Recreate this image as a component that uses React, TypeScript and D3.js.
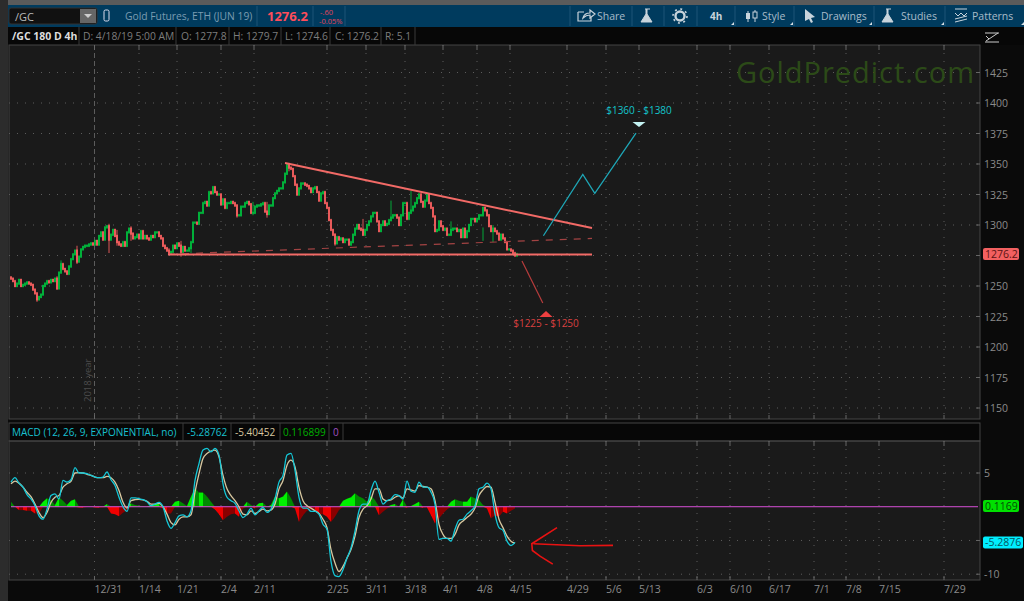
import React from "react";
import * as d3 from "d3";

const priceTicks = [1425, 1400, 1375, 1350, 1325, 1300, 1275, 1250, 1225, 1200, 1175, 1150];
const hiddenPriceLabel = 1275;
const macdTicks = [5, -5, -10];
const macdLabelTicks = [5, -10];
const dateLabels = ["12/31","1/14","1/21","2/4","2/11","2/25","3/11","3/18","4/1","4/8","4/15","4/29","5/6","5/13","6/3","6/10","6/17","7/1","7/8","7/15","7/29"];
const dateBars = [41.75,64,83,105,121.5,158,177.5,197,216,233,249.5,278,297.5,314,343,359.5,379,401.5,417.5,434,466.5];

const closes = [
1256,1254,1250,1252,1255,1250,1251,1252,1253,1252,1251,1247,1244,1239,1241,1243,1250,1252,1254,1253,1255,1254,1256,1248,1261,1268,1264,1262,1260,1266,1272,1276,1279,1270,1274,1280,1282,1283,1283,1284,1285,1284,1287,1284,1291,1294,1288,1298,1299,1288,1292,1296,1291,1286,1284,1283,1286,1283,1294,1297,1293,1289,1290,1292,1289,1295,1289,1291,1289,1288,1291,1290,1294,1294,1291,1289,1283,1281,1279,1277,1278,1283,1281,1285,1283,1278,1282,1279,1279,1281,1286,1302,1302,1301,1310,1310,1318,1319,1316,1327,1326,1331,1327,1325,1325,1317,1321,1314,1318,1318,1319,1318,1316,1308,1308,1315,1315,1318,1319,1317,1310,1310,1315,1316,1316,1317,1318,1311,1309,1316,1316,1322,1326,1328,1330,1330,1335,1342,1349,1347,1346,1340,1333,
1325,1330,1334,1334,1333,1332,1330,1327,1330,1331,1327,1320,1326,1327,1318,1314,1304,1296,1292,1285,1290,1288,1289,1286,1288,1288,1284,1286,1292,1297,1300,1297,1296,1292,1296,1300,1303,1307,1310,1310,1303,1295,1300,1303,1300,1301,1304,1306,1308,1308,1306,1300,1308,1318,1318,1305,1310,1312,1315,1318,1322,1325,1319,1315,1320,1325,1318,1314,1307,1295,1296,1303,1299,1296,1297,1292,1292,1296,1297,1297,1295,1296,1290,1297,1290,1295,1300,1305,1305,1303,1305,1308,1308,1314,1312,1308,1299,1295,1297,1295,1293,1288,1292,1289,1286,1280,1280,1279,1277,1275,1276.2];

const wickBars = [13,23,25,33,49,53,60,79,85,90,113,121,128,139,162,176,190,200,220,236,241];
const wickHighs = [1243,1258,1271,1283,1301,1296,1299,1281,1287,1283,1314,1319,1319,1351,1293,1305,1320,1328,1303,1298,1300];
const wickLows = [1237,1247,1262,1268,1277,1283,1287,1276,1274,1277,1306,1308,1306,1344,1283,1293,1303,1313,1293,1287,1286];

const macdValue = [3.65,4.3,3.5,2.9,1.8,1.15,.15,-1.35,-1.85,-.35,1.65,1.9,1.15,3.9,3.65,4,5.8,5,5,4.9,4.65,4.4,4.3,4.4,5.15,4,3.15,1.4,0,-.7,1.3,1.3,1.2,1.05,.75,.15,.4,.65,0,-2.1,-3.2,-2.35,-1.35,-1.2,-1.5,-.6,3.9,6.4,8.4,8.65,8.15,8.65,7.65,3.4,1.4,.9,.5,-.6,-1.6,-1.1,-.2,-1.2,-.6,-.1,-.85,-.35,1.15,3.65,4.65,7.65,7.9,5.4,1.4,
-.2,-.2,-.7,-.7,-1.1,-2.6,-3.35,-8.1,-10.2,-10.35,-9.35,-7.6,-6.1,-3.6,-.6,.4,.4,2.4,3.8,2.15,.4,.9,1.15,1.8,1.65,1.15,3.8,2.3,2.15,3.65,2.9,2.9,2.15,.4,-4.85,-4.7,-4.7,-5.1,-3.35,-2,-1.85,-1.1,-.6,.15,2.65,2.9,3.5,2.65,-1.1,-3.1,-3.5,-5.1,-5.75,-5.29];
const macdAvg = [3.4,3.8,3.5,2.9,2.15,1.5,.4,-.85,-1.6,-.85,.65,1.4,1.65,2.9,3.4,3.75,5,5.05,5,4.8,4.65,4.4,4.3,4.3,4.5,4.3,3.65,2.4,.65,-.2,.9,1.05,1.1,1,.8,.4,.4,.5,0,-1.1,-2.35,-2.7,-1.85,-1.5,-1.5,-1.2,2.15,4.9,7.15,7.9,8.25,8.4,7.4,4.65,2.65,1.65,.9,0,-1.1,-1.2,-.6,-1,-.7,-.35,-.6,-.5,.4,2.65,3.9,6.15,6.9,5.9,2.9,
.9,.15,-.2,-.6,-1,-1.85,-3.1,-6.35,-8.35,-9.6,-8.85,-7.6,-6.35,-4.35,-1.6,-.35,.15,1.15,2.65,2.65,1.15,.9,1,1.4,1.6,1.3,2.65,2.5,2.3,3.15,3,2.9,2.65,.9,-2.6,-4.1,-4.7,-4.7,-4.1,-2.7,-2.1,-1.6,-1.1,-.2,1.65,2.5,3,2.9,.65,-1.85,-3.1,-4.35,-5.1,-5.4];
const macdDiff = [.75,0,-.5,-.5,-.6,-.6,-1,-1,.75,1.25,1,.25,1.4,.9,.25,.9,1.1,-.1,-.15,-.05,0,-.1,-.15,-.1,.4,-1,-1.1,-1.4,-.9,-.5,.5,.25,.15,.1,.05,.25,.4,.4,-.25,-1,-1,.75,.9,.5,.1,1.5,2.75,2.1,2.1,1.5,.75,-.4,-1.1,-2,-1.5,-1.1,-1,-1.5,-.25,.75,.25,-.25,.5,.6,0,.25,1.5,1.25,1.5,2.25,1.25,-.25,-2.25,
-1.25,-.6,-.4,-.4,-1.1,-1.1,-1.5,-2.25,-1.5,-.5,.9,1.2,1.4,2,1.5,1.25,.75,1.6,1,-1.25,-.75,-.25,.25,.4,0,1.1,-.15,.1,.4,.75,-.2,-.1,-1.25,-2.5,-1.75,-1,-.4,.75,1.1,.9,.75,.75,1.5,1.25,1,.25,-.25,-1.75,-1.25,-1.5,-.75,-1,-.6,-.25];

const topLineBars = [137, 290.5];
const topLinePrices = [1350.8, 1297.5];
const baseLineBars = [78.5, 290.5];
const baseLinePrices = [1275.8, 1275.8];
const dashLineBars = [78.5, 290.5];
const dashLinePrices = [1276, 1289];
const bullBars = [266.2, 285.9, 291.9, 312.5];
const bullPrices = [1291.2, 1341.5, 1326, 1375.4];
const bearBars = [255.5, 265.9];
const bearPrices = [1270.5, 1236];
const arrowShaftBars = [301, 284.5, 261.2];
const arrowShaftValues = [-5.73, -5.79, -5.49];
const arrowHeadBars = [273, 260.4, 260.7, 264.5, 270.9];
const arrowHeadValues = [-3.09, -5.49, -6.48, -7.33, -8.5];

const W = 1024, H = 601;
const panelL = 9, panelR = 980;
const priceTop = 45, priceBottom = 419;
const macdTop = 441, macdBottom = 580;
const FONT = "'Open Sans', 'Noto Sans', sans-serif";

const x = d3.scaleLinear().domain([0, 484.5]).range([11, 980]);
const y = d3.scaleLinear().domain([1150, 1425]).range([408, 72.5]);
const m = d3.scaleLinear().domain([-10, 5]).range([574.2, 473]);

const GREEN = "#00b83c", RED = "#f45f5f";
const wickPad = 1.1;
const lineOf = (bars: number[], vals: number[], sy: (v: number) => number) =>
  d3.line<number>().x((b) => x(b)).y((_, i) => sy(vals[i]))(bars) as string;
const macdPath = (vals: number[]) =>
  d3.line<number>().x((_, i) => x(i * 2)).y((v) => m(v)).curve(d3.curveMonotoneX)(vals) as string;

function Label(p: any) {
  return <text fontFamily={FONT} fontSize={10.5} fill="#8a8a8a" {...p} />;
}

const headerCells: [string, number][] = [
  ["D: 4/18/19 5:00 AM", 83], ["O: 1277.8", 181], ["H: 1279.7", 233], ["L: 1274.6", 285], ["C: 1276.2", 335], ["R: 5.1", 385],
];
const headerSeps = [79, 176, 229, 281, 330, 381, 415];
const macdSeps = [183, 231, 280, 329, 343];

function Tool({ label, tx, ix, kind }: { label: string; tx: number; ix: number; kind: string }) {
  const c = "#c8d4dc";
  return (
    <g>
      {kind === "share" && <path d={`M${ix} 12h6M${ix} 12v9h13v-4M${ix + 5} 18c1-4 4-5 7-5v-3l5 4-5 4v-3c-3 0-5 1-7 3z`} fill="none" stroke={c} strokeWidth={1.2} />}
      {kind === "style" && <path d={`M${ix} 11v11M${ix + 7} 10v12`} stroke={c} strokeWidth={1} />}
      {kind === "style" && <rect x={ix - 2} y={13} width={4} height={6} fill={c} />}
      {kind === "style" && <rect x={ix + 5} y={12} width={4} height={6} fill="#003a5a" stroke={c} />}
      {kind === "draw" && <path d={`M${ix} 9l10 8-4 1 2 4-2 1-2-4-4 2z`} fill={c} />}
      {kind === "flask" && <path d={`M${ix + 3} 9h5M${ix + 4} 9v5l-5 8h11l-5-8v-5`} fill={c} stroke={c} />}
      {kind === "pat" && <path d={`M${ix} 9h12M${ix} 13l3 3 3-3 3 3 3-3M${ix} 19l12-3M${ix} 22l12-3`} fill="none" stroke={c} />}
      <text x={tx} y={20} fontFamily={FONT} fontSize={10.5} fill="#a9bcc9">{label}</text>
    </g>
  );
}

export default function App() {
  const gridX = dateBars.map((b) => x(b));
  const segs = macdDiff.slice(1).map((d, j) => {
    const i = j + 1;
    const prev = macdDiff[i - 1];
    const up = d >= prev;
    const pos = d3.area<number>().x((_, k) => x((i - 1 + k) * 2)).y0(m(0)).y1((v) => m(Math.max(0, v)))([prev, d]) as string;
    const neg = d3.area<number>().x((_, k) => x((i - 1 + k) * 2)).y0(m(0)).y1((v) => m(Math.min(0, v)))([prev, d]) as string;
    return { i, pos, neg, posFill: up ? "#00f000" : "#008a00", negFill: up ? "#8a0000" : "#f00000" };
  });
  return (
    <svg width={W} height={H} style={{ position: "fixed", left: 0, top: 0, display: "block" }}>
      <rect width={W} height={H} fill="#0a0a0a" />
      <rect width={W} height={5} fill="#5b5b5b" />
      <rect x={0} y={0} width={8} height={H} fill="#2c2c2c" />
      <rect x={8} y={5} width={W - 8} height={22} fill="#003b5e" />
      <rect x={8} y={27} width={W - 8} height={18} fill="#070707" />
      <rect x={8} y={423} width={973} height={18} fill="#070707" />
      <rect x={panelL} y={priceTop} width={panelR - panelL} height={priceBottom - priceTop} fill="#1a1a1a" stroke="#444" />
      <rect x={panelL} y={macdTop} width={panelR - panelL} height={macdBottom - macdTop} fill="#1a1a1a" stroke="#444" />
      <rect x={panelL} y={423} width={panelR - panelL} height={18} fill="none" stroke="#444" />

      {/* toolbar */}
      <rect x={9} y={8} width={88} height={16} rx={2} fill="#111" stroke="#333" />
      <rect x={80} y={9} width={16} height={14} fill="#666" />
      <path d="M84 14h8l-4 4z" fill="#ccc" />
      <text x={15} y={21} fontFamily={FONT} fontSize={11} fill="#bbb">/GC</text>
      <rect x={104} y={10} width={5} height={11} rx={1.5} fill="none" stroke="#dde" />
      <text x={125} y={20} fontFamily={FONT} fontSize={10.3} fill="#7b9cb1">Gold Futures, ETH (JUN 19)</text>
      <text x={267} y={21} fontFamily={FONT} fontSize={13} fontWeight={700} fill="#ff4d5a">1276.2</text>
      <text x={320} y={15} fontFamily={FONT} fontSize={7.5} fill="#e0455a">-.60</text>
      <text x={319} y={24} fontFamily={FONT} fontSize={7.5} fill="#e0455a">-0.05%</text>
      <path d="M257 6v20M313 6v20M345 6v20M570 6v20M632 6v20M664 6v20M697 6v20M735 6v20M794 6v20M874 6v20M945 6v20" stroke="#1c5477" />
      <Tool label="Share" tx={597} ix={578} kind="share" />
      <Tool label="" tx={0} ix={642} kind="flask" />
      <circle cx={680} cy={16} r={4.5} fill="none" stroke="#c8d4dc" strokeWidth={2.4} />
      <circle cx={680} cy={16} r={7} fill="none" stroke="#c8d4dc" strokeWidth={1.6} strokeDasharray="2 3.5" />
      <text x={710} y={20} fontFamily={FONT} fontSize={10} fontWeight={700} fill="#c8d4dc">4h</text>
      <Tool label="Style" tx={762} ix={748} kind="style" />
      <Tool label="Drawings" tx={821} ix={805} kind="draw" />
      <Tool label="Studies" tx={901} ix={883} kind="flask" />
      <Tool label="Patterns" tx={972} ix={955} kind="pat" />
      <path d="M731 25l3-3v3zM790 25l3-3v3zM869 25l3-3v3zM941 25l3-3v3zM1021 25l3-3v3z" fill="#d5dde2" />

      {/* header rows */}
      {headerSeps.map((s) => <line key={s} x1={s} x2={s} y1={27} y2={45} stroke="#3a3a3a" />)}
      <text x={12} y={40} fontFamily={FONT} fontSize={10.5} fontWeight={700} fill="#ddd">/GC 180 D 4h</text>
      {headerCells.map(([t, px]) => <text key={t} x={px} y={40} fontFamily={FONT} fontSize={10.3} fill="#7d7d7d">{t}</text>)}
      <path d="M985 33h14M985 42h14M986 41l12-8M986 36l3 3" stroke="#ccc" fill="none" />
      {macdSeps.map((s) => <line key={s} x1={s} x2={s} y1={423} y2={441} stroke="#3a3a3a" />)}
      <text x={12} y={436} fontFamily={FONT} fontSize={10} fill="#18c0d0">MACD (12, 26, 9, EXPONENTIAL, no)</text>
      <text x={187} y={436} fontFamily={FONT} fontSize={10} fill="#18c0d0">-5.28762</text>
      <text x={235} y={436} fontFamily={FONT} fontSize={10} fill="#d8c8a0">-5.40452</text>
      <text x={283} y={436} fontFamily={FONT} fontSize={10} fill="#00b000">0.116899</text>
      <text x={333} y={436} fontFamily={FONT} fontSize={10} fill="#a050c0">0</text>

      {/* grid */}
      {priceTicks.map((t) => (
        <g key={t}>
          <line x1={panelL} x2={panelR} y1={y(t)} y2={y(t)} stroke="#5c5c5c" strokeWidth={1} strokeDasharray="1 7" />
          <line x1={panelR - 4} x2={panelR} y1={y(t)} y2={y(t)} stroke="#666" />
          {t !== hiddenPriceLabel && <Label x={984} y={y(t) + 4}>{t}</Label>}
        </g>
      ))}
      {macdTicks.map((t) => (
        <g key={t}>
          <line x1={panelL} x2={panelR} y1={m(t)} y2={m(t)} stroke="#5c5c5c" strokeDasharray="1 7" />
          <line x1={panelR - 4} x2={panelR} y1={m(t)} y2={m(t)} stroke="#666" />
        </g>
      ))}
      {macdLabelTicks.map((t) => <Label key={t} x={984} y={m(t) + 4}>{t}</Label>)}
      {gridX.map((gx, i) => (
        <g key={dateLabels[i]}>
          <line x1={gx} x2={gx} y1={priceTop} y2={priceBottom} stroke="#5c5c5c" strokeDasharray={i === 0 ? "5 3" : "1 7"} />
          <line x1={gx} x2={gx} y1={priceTop} y2={priceTop + 5} stroke="#666" />
          <line x1={gx} x2={gx} y1={priceBottom - 4} y2={priceBottom} stroke="#666" />
          <line x1={gx} x2={gx} y1={macdTop} y2={macdBottom} stroke="#5c5c5c" strokeDasharray="1 7" />
          <line x1={gx} x2={gx} y1={macdTop} y2={macdTop + 5} stroke="#666" />
          <line x1={gx} x2={gx} y1={macdBottom - 4} y2={macdBottom} stroke="#666" />
          <Label x={gx} y={593}>{dateLabels[i]}</Label>
        </g>
      ))}
      <text transform={`translate(${x(dateBars[0]) - 4},402) rotate(-90)`} fontFamily={FONT} fontSize={9.5} fill="#4c4c4c">2018 year</text>

      <text x={736} y={83} fontFamily={FONT} fontSize={29} fill="#2c4a18" textLength={238} lengthAdjust="spacing">GoldPredict.com</text>

      {/* candles */}
      {closes.map((c, i) => {
        const o = i === 0 ? c + 1 : closes[i - 1];
        const col = c >= o ? GREEN : RED;
        return (
          <line key={i} x1={x(i)} x2={x(i)} y1={y(Math.max(o, c) + wickPad)} y2={y(Math.min(o, c) - wickPad)} stroke={col} strokeWidth={0.9} />
        );
      })}
      {wickBars.map((b, i) => (
        <line key={b} x1={x(b)} x2={x(b)} y1={y(wickHighs[i])} y2={y(wickLows[i])}
          stroke={closes[b] >= closes[b - 1] ? GREEN : RED} strokeWidth={0.9} />
      ))}
      {closes.map((c, i) => {
        const o = i === 0 ? c + 1 : closes[i - 1];
        return <line key={i} x1={x(i)} x2={x(i)} y1={y(o)} y2={y(c)} stroke={c >= o ? GREEN : RED} strokeWidth={1.8} strokeLinecap="square" />;
      })}

      {/* drawings */}
      <path d={lineOf(dashLineBars, dashLinePrices, y)} stroke="#a34343" strokeWidth={1.2} strokeDasharray="7 7" fill="none" />
      <path d={lineOf(topLineBars, topLinePrices, y)} stroke="#f26a66" strokeWidth={2} fill="none" />
      <path d={lineOf(baseLineBars, baseLinePrices, y)} stroke="#f26a66" strokeWidth={2} fill="none" />
      <path d={lineOf(bullBars, bullPrices, y)} stroke="#1ea6b6" strokeWidth={1.3} fill="none" />
      <path d={lineOf(bearBars, bearPrices, y)} stroke="#b83c3c" strokeWidth={1.2} fill="none" />
      <path d={`M${x(314) - 6.5} ${y(1384.5)}h13l-6.5 5z`} fill="#c4f2f2" />
      <path d={`M${x(267.5) - 6.5} ${y(1224.6)}h13l-6.5 -6z`} fill="#ee4040" />
      <text x={x(314)} y={y(1388) - 4} textAnchor="middle" fontFamily={FONT} fontSize={10} fill="#14c4cc">$1360 - $1380</text>
      <text x={x(267.5)} y={y(1216)} textAnchor="middle" fontFamily={FONT} fontSize={10} fill="#d84040">$1225 - $1250</text>

      {/* macd */}
      {segs.map((s) => (
        <g key={s.i}>
          <path d={s.pos} fill={s.posFill} />
          <path d={s.neg} fill={s.negFill} />
        </g>
      ))}
      <line x1={x(0)} x2={panelR - 2} y1={m(0)} y2={m(0)} stroke="#d850d8" strokeWidth={1} />
      <path d={macdPath(macdAvg)} fill="none" stroke="#d8c8a0" strokeWidth={1.3} />
      <path d={macdPath(macdValue)} fill="none" stroke="#14c8d8" strokeWidth={1.3} />
      <path d={lineOf(arrowShaftBars, arrowShaftValues, m)} fill="none" stroke="#e81212" strokeWidth={1.6} />
      <path d={lineOf(arrowHeadBars, arrowHeadValues, m)} fill="none" stroke="#e81212" strokeWidth={1.6} />

      {/* tags */}
      <rect x={983} y={y(1276.2) - 6} width={36} height={12} rx={2} fill="#f26060" />
      <text x={985} y={y(1276.2) + 3.8} fontFamily={FONT} fontSize={10.5} fill="#5a1414">1276.2</text>
      <rect x={983} y={m(0.1169) - 6} width={36} height={12} rx={2} fill="#00e000" />
      <text x={985} y={m(0.1169) + 3.8} fontFamily={FONT} fontSize={10.5} fill="#064a06">0.1169</text>
      <rect x={983} y={m(-5.2876) - 6} width={40} height={12} rx={2} fill="#00eeff" />
      <text x={985} y={m(-5.2876) + 3.8} fontFamily={FONT} fontSize={10.5} fill="#065560">-5.2876</text>
    </svg>
  );
}
